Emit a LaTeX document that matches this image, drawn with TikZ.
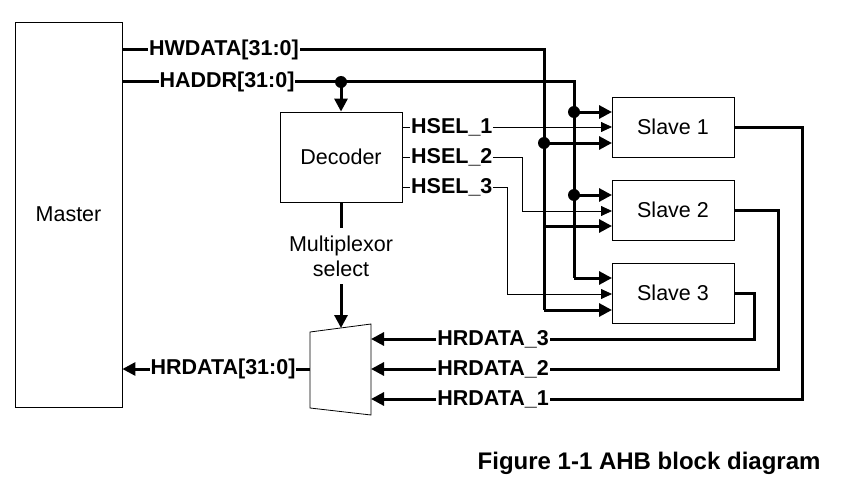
\documentclass[tikz,border=0pt]{standalone}
\usepackage{fontspec}
\setmainfont{Liberation Sans}
\usetikzlibrary{arrows.meta}
\begin{document}
\begin{tikzpicture}[x=1pt,y=-1pt,
  box/.style={draw,line width=0.8pt,inner sep=0pt},
  bus/.style={line width=3pt,-{Triangle[length=13pt,width=13pt]}},
  busn/.style={line width=3pt},
  sig/.style={line width=0.8pt,-{Triangle[length=11pt,width=10pt]}},
  sign/.style={line width=0.8pt},
  lbl/.style={font=\bfseries\fontsize{21.5}{24}\selectfont,fill=white,inner sep=1pt},
  txt/.style={font=\fontsize{21.5}{25}\selectfont},
  dot/.style={circle,fill,inner sep=0pt,minimum size=12pt}]
\useasboundingbox (0,0) rectangle (860,487);
% boxes
\node[box,minimum width=107pt,minimum height=385pt,txt] (m) at (68.5,214.5) {Master};
\node[box,minimum width=122pt,minimum height=90pt,txt] (d) at (341,157) {Decoder};
\node[box,minimum width=122pt,minimum height=60pt,txt] (s1) at (673,127) {Slave 1};
\node[box,minimum width=122pt,minimum height=60pt,txt] (s2) at (673,210) {Slave 2};
\node[box,minimum width=122pt,minimum height=60pt,txt] (s3) at (673,293) {Slave 3};
\draw[line width=0.8pt,fill=white] (310,332) -- (371,324) -- (371,415) -- (310,408) -- cycle;
\coordinate (mt) at (341,328);
\coordinate (ml) at (310,369);
% coordinates
\coordinate (hwd) at (544,143);
\coordinate (had) at (341,82);
\coordinate (a1) at (574,112);
\coordinate (a2) at (574,195);
% HWDATA
\draw[busn] (122,50) -- (544,50) -- (544,310);
\node[lbl] at (224,50) {HWDATA[31:0]};
\draw[bus] (544,310) -- (612,310);
\draw[bus] (hwd) -- (612,143);
\draw[bus] (544,226) -- (612,226);
\node[dot] at (hwd) {};
% HADDR
\draw[busn] (122,82) -- (574,82) -- (574,278);
\node[lbl] at (227,82) {HADDR[31:0]};
\draw[bus] (574,278) -- (612,278);
\draw[bus] (had) -- (d.north);
\draw[bus] (a1) -- (612,112);
\draw[bus] (a2) -- (612,195);
\node[dot] at (had) {};
\node[dot] at (a1) {};
\node[dot] at (a2) {};
% HSEL
\draw[sig] (402,127) -- (612,127);
\node[lbl,anchor=west] at (410,127) {HSEL\_1};
\draw[sign] (402,157) -- (522,157) -- (522,211);
\node[lbl,anchor=west] at (410,157) {HSEL\_2};
\draw[sig] (522,211) -- (612,211);
\draw[sign] (402,187) -- (507,187) -- (507,294);
\node[lbl,anchor=west] at (410,187) {HSEL\_3};
\draw[sig] (507,294) -- (612,294);
% mux select
\draw[busn] (d.south) -- (341,228);
\node[txt,align=center,inner sep=0pt] (ms) at (341,256) {Multiplexor\\select};
\draw[bus] (341,284) -- (mt);
% HRDATA
\draw[busn] (s1.east) -- (802,127) -- (802,399) -- (548,399);
\draw[busn] (s2.east) -- (778,210) -- (778,369) -- (548,369);
\draw[busn] (s3.east) -- (754,293) -- (754,339) -- (548,339);
\draw[bus] (548,399) -- (371,399);
\draw[bus] (548,369) -- (371,369);
\draw[bus] (548,339) -- (371,339);
\node[lbl] at (493,399) {HRDATA\_1};
\node[lbl] at (493,369) {HRDATA\_2};
\node[lbl] at (493,339) {HRDATA\_3};
\draw[bus] (ml) -- (m.east |- ml);
\node[lbl] at (223,369) {HRDATA[31:0]};
% caption
\node[font=\bfseries\fontsize{24}{28}\selectfont,anchor=east] (cap) at (824,463) {Figure 1-1 AHB block diagram};
\end{tikzpicture}
\end{document}
